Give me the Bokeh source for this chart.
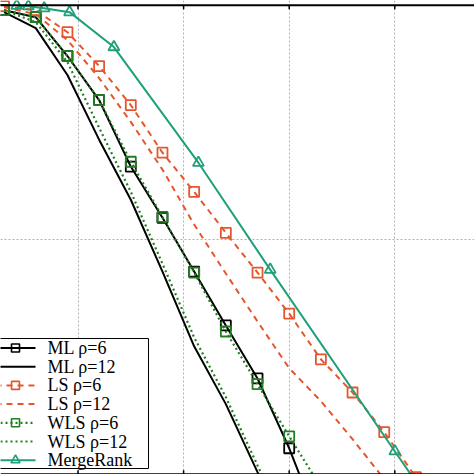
import math
from bokeh.plotting import figure
from bokeh.models import Range1d, Grid, FixedTicker, Span
from bokeh.core.properties import value
from bokeh.embed import file_html
from bokeh.resources import INLINE

# ---- data (SNR-like x, error rate y) ----
x_ml6 = [3, 6, 9, 12, 15, 18, 21, 24, 27, 30, 33]
y_ml6 = [0.952, 0.889, 0.607, 0.394, 0.205, 0.124, 0.0731, 0.0431, 0.0256, 0.0129, 0.00583]

x_ml12 = [3, 6, 9, 12, 15, 18, 21, 24, 27, 30]
y_ml12 = [0.934, 0.798, 0.504, 0.267, 0.148, 0.0731, 0.0351, 0.0199, 0.0102, 0.00529]

x_ls6 = [3, 6, 9, 12, 15, 18, 21, 24, 27, 30, 33, 36, 39, 42]
y_ls6 = [0.990, 0.952, 0.767, 0.550, 0.375, 0.235, 0.160, 0.107, 0.0724, 0.0484, 0.0309, 0.0223, 0.0151, 0.00971]

x_ls12 = [3, 6, 9, 12, 15, 18, 21, 24, 27, 30, 33, 36, 39]
y_ls12 = [0.981, 0.916, 0.710, 0.489, 0.318, 0.199, 0.116, 0.0717, 0.0448, 0.0283, 0.0205, 0.0141, 0.00952]

x_wls6 = [3, 6, 9, 12, 15, 18, 21, 24, 27, 30, 33]
y_wls6 = [0.952, 0.889, 0.607, 0.394, 0.215, 0.125, 0.0724, 0.0406, 0.0242, 0.0145, 0.00881]

x_wls12 = [3, 6, 9, 12, 15, 18, 21, 24, 27, 30]
y_wls12 = [0.952, 0.847, 0.572, 0.300, 0.160, 0.0790, 0.0383, 0.0213, 0.0109, 0.00572]

x_mr = [4.2, 5.3, 6.8, 9.2, 13.4, 21.4, 28.2, 40.0, 44.3]
y_mr = [0.995, 0.990, 0.971, 0.934, 0.663, 0.213, 0.0745, 0.01253, 0.00656]

labels = ["ML \u03c1=6", "ML \u03c1=12", "LS \u03c1=6", "LS \u03c1=12",
          "WLS \u03c1=6", "WLS \u03c1=12", "MergeRank"]

x_ticks = [10, 20, 30, 40]
y_ticks = [0.01, 0.1, 1.0]

# ---- styling ----
BLACK = "#000000"
ORANGE = "#E4572E"
GREEN = "#207F20"
TEAL = "#1FA07A"
FONT = "Liberation Serif"
W = H = 474
X0, X1 = 2.661, 47.547
Y0, Y1 = 0.00997, 1.0472

p = figure(width=W, height=H, output_backend="svg", toolbar_location=None,
           y_axis_type="log", x_axis_location=None, y_axis_location=None,
           x_range=Range1d(X0, X1), y_range=Range1d(Y0, Y1),
           min_border=0, min_border_left=0, min_border_right=0,
           min_border_top=0, min_border_bottom=0)
p.outline_line_color = None
p.background_fill_color = "white"
p.grid.visible = False

p.add_layout(Grid(dimension=0, ticker=FixedTicker(ticks=x_ticks),
                  grid_line_color="#b0b0b0", grid_line_dash="2 2", grid_line_width=1))
p.add_layout(Grid(dimension=1, ticker=FixedTicker(ticks=y_ticks),
                  grid_line_color="#b0b0b0", grid_line_dash="2 2", grid_line_width=1))

# frame lines and ticks
p.add_layout(Span(location=1.0, dimension="width", line_color="black", line_width=2))
p.add_layout(Span(location=0.01, dimension="width", line_color="black", line_width=2))
tick_len = 10 ** (4 / 234.5)
p.segment(x0=x_ticks, x1=x_ticks, y0=[1.0] * 4, y1=[1.0 / tick_len] * 4,
          line_color="black", line_width=1.5)
p.segment(x0=x_ticks, x1=x_ticks, y0=[0.01] * 4, y1=[0.01 * tick_len] * 4,
          line_color="black", line_width=1.5)

LW = 2
series = [
    (x_ml6, y_ml6, BLACK, None, 2, "square"),
    (x_ml12, y_ml12, BLACK, None, 2, None),
    (x_ls6, y_ls6, ORANGE, "6 5", 2, "square"),
    (x_ls12, y_ls12, ORANGE, "6 5", 2, None),
    (x_wls6, y_wls6, GREEN, "2 3", 2.2, "square"),
    (x_wls12, y_wls12, GREEN, "2 3", 2.2, None),
    (x_mr, y_mr, TEAL, None, 2, "triangle"),
]
for xs, ys, col, dash, lw, mk in series:
    kw = dict(line_color=col, line_width=lw)
    if dash:
        kw["line_dash"] = dash
    p.line(xs, ys, **kw)
    if mk:
        p.scatter(xs, ys, marker=mk, size=11 if mk == "triangle" else 10,
                  line_color=col, line_width=1.8, fill_color=None)


# ---- legend (laid out in screen pixels, mapped through the plot's ranges) ----
def px2x(px):
    return X0 + px / W * (X1 - X0)


def py2y(py):
    ly0, ly1 = math.log10(Y0), math.log10(Y1)
    return 10 ** (ly1 - py / H * (ly1 - ly0))


box_l, box_r, box_t, box_b = -2, 148, 338, 468
row0, pitch = 347.5, 18.7
p.quad(left=[px2x(box_l)], right=[px2x(box_r)], top=[py2y(box_t)], bottom=[py2y(box_b)],
       fill_color="white", line_color="black", line_width=1)
for i, (xs, ys, col, dash, lw, mk) in enumerate(series):
    cy = py2y(row0 + i * pitch)
    kw = dict(line_color=col, line_width=lw)
    if dash:
        kw["line_dash"] = dash
    p.line([px2x(-5), px2x(35)], [cy, cy], **kw)
    if mk:
        p.scatter([px2x(15)], [cy], marker=mk, size=9 if mk == "triangle" else 8,
                  line_color=col, line_width=1.6, fill_color=None)
p.text(x=[px2x(47)] * len(labels), y=[py2y(row0 + i * pitch) for i in range(len(labels))],
       text=labels, text_font=value(FONT), text_font_size=value("18px"),
       text_baseline="middle", text_align="left", text_color="black")

open("out.html", "w").write(file_html(p, INLINE))
